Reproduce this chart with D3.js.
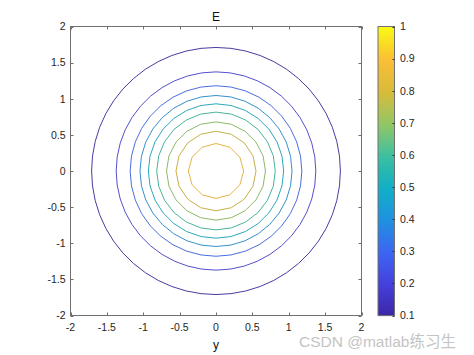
<!DOCTYPE html>
<html><head><meta charset="utf-8">
<script src="https://cdn.jsdelivr.net/npm/d3@7"></script>
<style>body{margin:0;background:#fff;overflow:hidden}</style>
</head><body><svg id="c" width="474" height="355"></svg>
<script>
// ---- data ----
const contourLevels = [0.1, 0.2, 0.3, 0.4, 0.5, 0.6, 0.7, 0.8, 0.9];
const contourRadii  = [1.71, 1.372, 1.18, 1.045, 0.93, 0.815, 0.68, 0.55, 0.38];
const xTicks = [-2, -1.5, -1, -0.5, 0, 0.5, 1, 1.5, 2];
const yTicks = [-2, -1.5, -1, -0.5, 0, 0.5, 1, 1.5, 2];
const cbarTicks = [0.1, 0.2, 0.3, 0.4, 0.5, 0.6, 0.7, 0.8, 0.9, 1];
const cbarDomain = [0.1, 1];
const titleText = "E";
const xLabelText = "y";
const watermarkText = "CSDN @matlab练习生";

// parula colormap stops
const parulaStops = [
  [0.000, "#3e26a8"], [0.110, "#4641dc"], [0.220, "#3d66f3"], [0.330, "#2191e0"],
  [0.440, "#12afc8"], [0.555, "#3bbf9f"], [0.665, "#8fc45f"], [0.775, "#d7b934"],
  [0.885, "#fbbe36"], [1.000, "#f9fa14"]
];
const parula = d3.scaleLinear()
  .domain(parulaStops.map(d => d[0]))
  .range(parulaStops.map(d => d[1]))
  .interpolate(d3.interpolateRgb);

const svg = d3.select("#c");
const font = "'Liberation Sans', Arial, Helvetica, sans-serif";
const axisColor = "#707070";
const textColor = "#262626";

const x = d3.scaleLinear().domain([-2, 2]).range([70.5, 361.5]);
const y = d3.scaleLinear().domain([-2, 2]).range([315.5, 26.5]);
const cmap = d3.scaleLinear().domain(cbarDomain).range([0, 1]);

// contours
const g = svg.append("g");
contourLevels.forEach((lev, i) => {
  const r = contourRadii[i];
  let n = Math.round(2 * Math.PI * r / 0.2 / 4) * 4;
  n = Math.max(12, n);
  const pts = d3.range(n).map(k => {
    const a = 2 * Math.PI * k / n;
    return [r * Math.cos(a), r * Math.sin(a)];
  });
  g.append("path")
    .attr("d", d3.line().x(d => x(d[0])).y(d => y(d[1])).curve(d3.curveLinearClosed)(pts))
    .attr("fill", "none")
    .attr("stroke", d3.interpolateRgb(parula(cmap(lev)), "#8a8a8a")(0.2))
    .attr("stroke-width", 1);
});

// axes box
svg.append("rect")
  .attr("x", x(-2)).attr("y", y(2))
  .attr("width", x(2) - x(-2)).attr("height", y(-2) - y(2))
  .attr("fill", "none").attr("stroke", axisColor).attr("stroke-width", 1);

const tickLen = 3;
// x ticks (bottom & top, inward)
xTicks.forEach(t => {
  const px = Math.round(x(t)) + 0.5;
  svg.append("line").attr("x1", px).attr("x2", px).attr("y1", y(-2)).attr("y2", y(-2) - tickLen).attr("stroke", axisColor);
  svg.append("line").attr("x1", px).attr("x2", px).attr("y1", y(2)).attr("y2", y(2) + tickLen).attr("stroke", axisColor);
  svg.append("text").attr("x", x(t)).attr("y", y(-2) + 15.5)
    .attr("text-anchor", "middle").attr("font-family", font).attr("font-size", 10.5)
    .attr("fill", textColor).text(String(t));
});
// y ticks (left & right, inward)
yTicks.forEach(t => {
  const py = Math.round(y(t)) + 0.5;
  svg.append("line").attr("y1", py).attr("y2", py).attr("x1", x(-2)).attr("x2", x(-2) + tickLen).attr("stroke", axisColor);
  svg.append("line").attr("y1", py).attr("y2", py).attr("x1", x(2)).attr("x2", x(2) - tickLen).attr("stroke", axisColor);
  svg.append("text").attr("x", x(-2) - 5).attr("y", y(t) + 3.8)
    .attr("text-anchor", "end").attr("font-family", font).attr("font-size", 10.5)
    .attr("fill", textColor).text(String(t));
});

// title & label
svg.append("text").attr("x", (x(-2) + x(2)) / 2).attr("y", 20.5)
  .attr("text-anchor", "middle").attr("font-family", font).attr("font-size", 12)
  .attr("fill", "#111").text(titleText);
svg.append("text").attr("x", (x(-2) + x(2)) / 2).attr("y", 349)
  .attr("text-anchor", "middle").attr("font-family", font).attr("font-size", 12)
  .attr("fill", "#111").text(xLabelText);

// colorbar
const cx0 = 378, cx1 = 394.5;
const cy = d3.scaleLinear().domain(cbarDomain).range([315.5, 26.5]);
const nSteps = 290;
d3.range(nSteps).forEach(k => {
  const v0 = cbarDomain[0] + (cbarDomain[1] - cbarDomain[0]) * k / nSteps;
  const v1 = cbarDomain[0] + (cbarDomain[1] - cbarDomain[0]) * (k + 1) / nSteps;
  svg.append("rect").attr("x", cx0).attr("width", cx1 - cx0)
    .attr("y", cy(v1)).attr("height", cy(v0) - cy(v1) + 0.6)
    .attr("fill", parula(cmap((v0 + v1) / 2)));
});
svg.append("rect").attr("x", cx0).attr("y", cy(1)).attr("width", cx1 - cx0).attr("height", cy(0.1) - cy(1))
  .attr("fill", "none").attr("stroke", axisColor).attr("stroke-width", 1);
cbarTicks.forEach(t => {
  const py = Math.round(cy(t)) + 0.5;
  svg.append("line").attr("x1", cx1).attr("x2", cx1 - 2).attr("y1", py).attr("y2", py).attr("stroke", "#333");
  svg.append("text").attr("x", cx1 + 5.5).attr("y", cy(t) + 3.8)
    .attr("font-family", font).attr("font-size", 10.5).attr("fill", textColor).text(String(t));
});

// watermark
svg.append("text").attr("x", 299).attr("y", 347)
  .attr("font-family", "'Liberation Sans', Arial, 'Noto Sans CJK SC', sans-serif")
  .attr("font-size", 15.5).attr("fill", "#c4c4c4").text(watermarkText);
</script>
</body></html>
